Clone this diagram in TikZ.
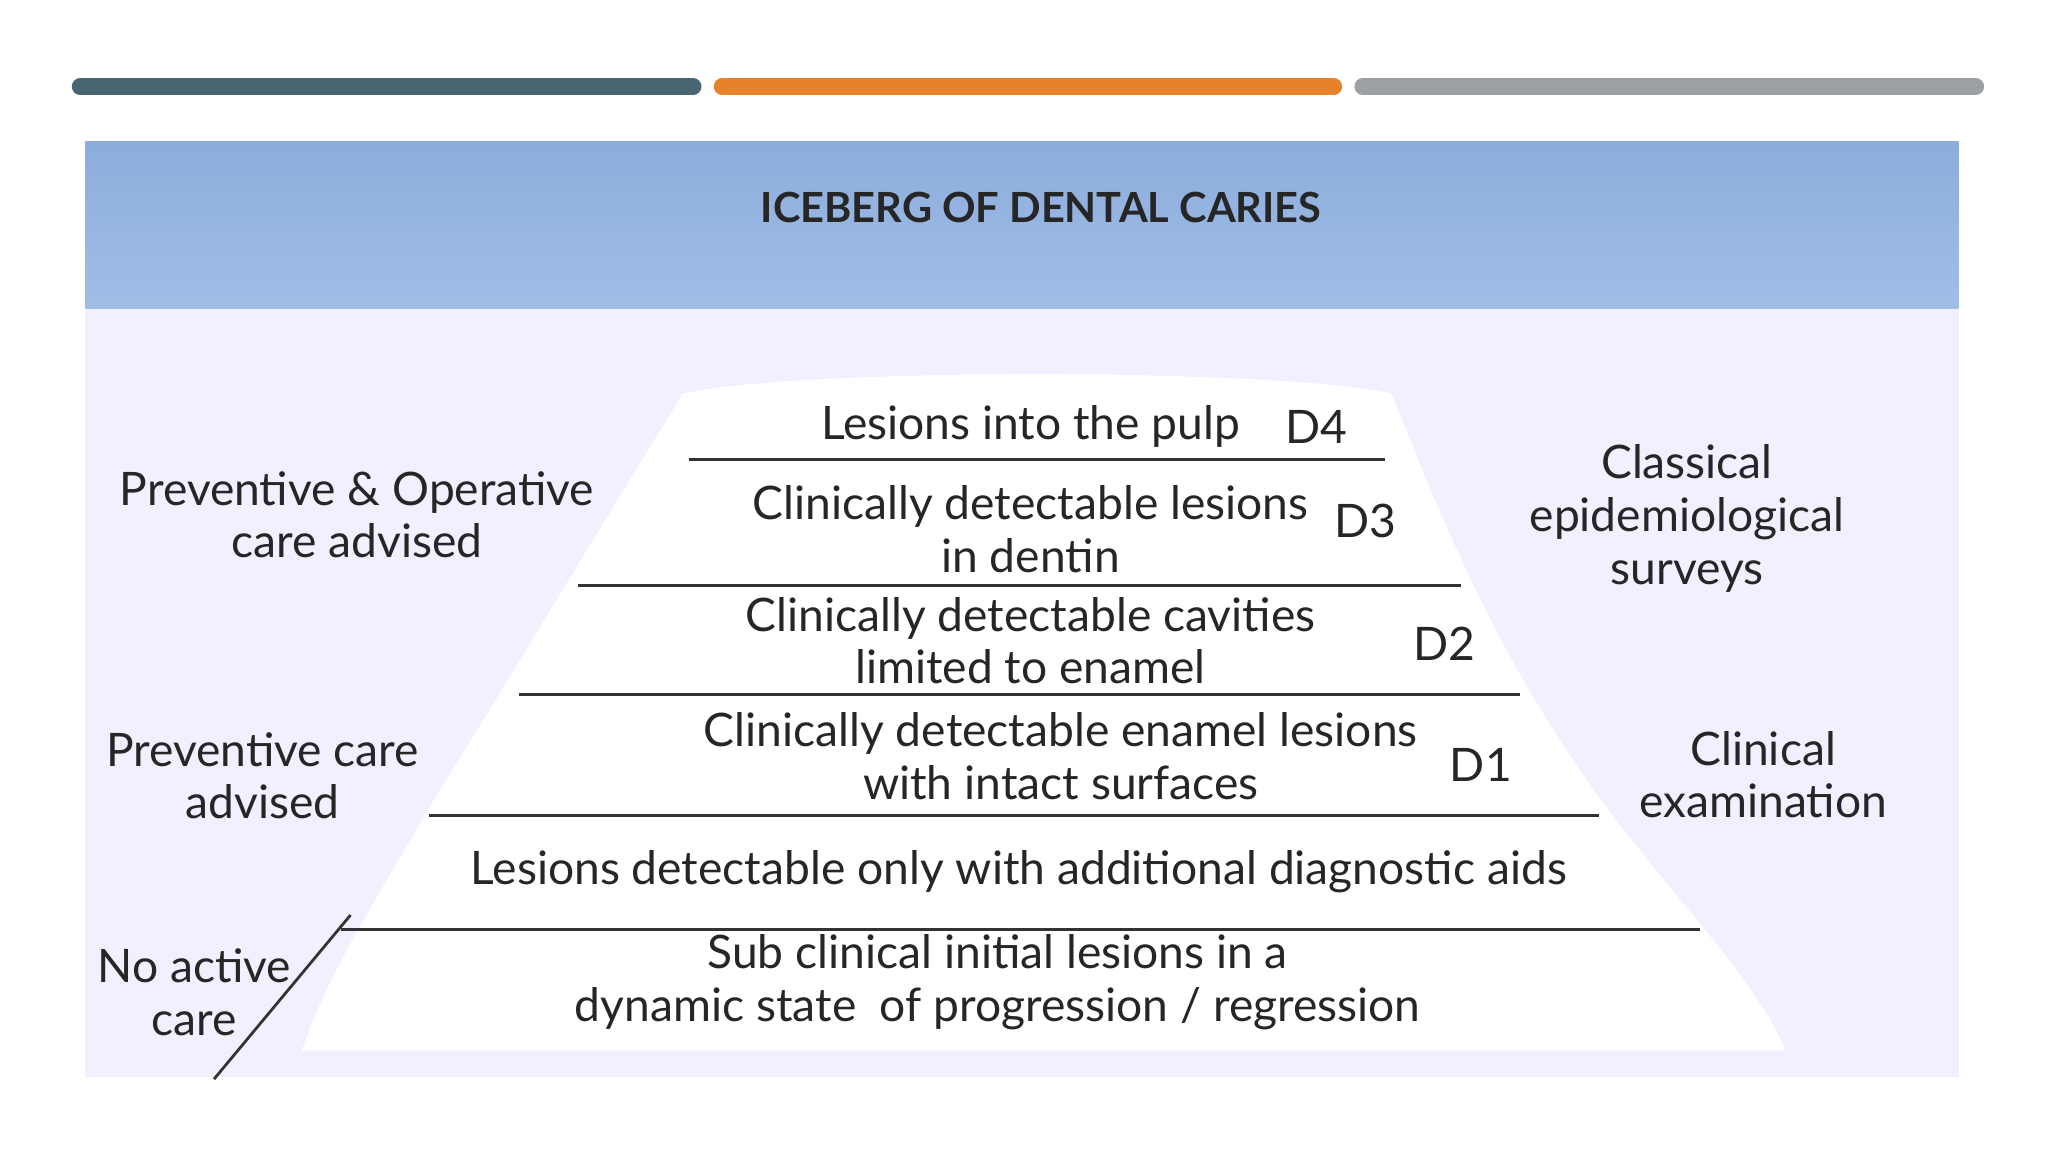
\documentclass[tikz,border=0pt]{standalone}
\usepackage{fontspec}
\setmainfont{Lato}
\begin{document}
\begin{tikzpicture}[x=0.01cm,y=-0.01cm,
  lbl/.style={font=\fontsize{10}{11.4}\selectfont,align=center,text=black!85,inner sep=0},
  sep/.style={line width=0.6pt,black!80},
  bar/.style={line width=3.6pt,line cap=round}]
\useasboundingbox (0,0) rectangle (1560,878);
\fill[white] (0,0) rectangle (1560,878);
\definecolor{slate}{HTML}{4A6572}\definecolor{orng}{HTML}{E8822A}\definecolor{gry}{HTML}{9AA0A3}
\draw[bar,slate] (61,66) -- (528,66);
\draw[bar,orng] (550,66) -- (1016,66);
\draw[bar,gry] (1038,66) -- (1505,66);
% panel
\fill[blue!6!white] (65,235) rectangle (1492,820);
\shade[top color={rgb,255:red,140;green,172;blue,220},bottom color={rgb,255:red,160;green,190;blue,230}] (65,108) rectangle (1492,235);
\fill[white] (520,300) .. controls (600,280) and (980,280) .. (1060,300)
  .. controls (1100,400) and (1140,500) .. (1220,610)
  .. controls (1280,690) and (1340,750) .. (1360,800)
  -- (230,800) .. controls (250,740) and (290,680) .. (327,615)
  .. controls (380,530) and (440,430) .. cycle;
\node[lbl,font=\fontsize{9}{10}\selectfont\bfseries] (title) at (793,158) {ICEBERG OF DENTAL CARIES};
% separators
\coordinate (a1) at (525,350); \coordinate (a2) at (1055,350);
\coordinate (b1) at (440,446); \coordinate (b2) at (1113,446);
\coordinate (c1) at (395,529); \coordinate (c2) at (1158,529);
\coordinate (d1) at (327,621); \coordinate (d2) at (1218,621);
\coordinate (e1) at (260,708); \coordinate (e2) at (1295,708);
\coordinate (f1) at (267,697); \coordinate (f2) at (163,822);
\draw[sep] (a1)--(a2); \draw[sep] (b1)--(b2); \draw[sep] (c1)--(c2);
\draw[sep] (d1)--(d2); \draw[sep] (e1)--(e2); \draw[sep] (f1)--(f2);
% layer texts
\node[lbl] (l4) at (785,325) {Lesions into the pulp};
\node[lbl] (d4) at (1003,325) {D4};
\node[lbl] (l3) at (785,403) {Clinically detectable lesions\\in dentin};
\node[lbl] (d3) at (1040,397) {D3};
\node[lbl] (l2) at (785,488) {Clinically detectable cavities\\limited to enamel};
\node[lbl] (d2) at (1100,490) {D2};
\node[lbl] (l1) at (808,576) {Clinically detectable enamel lesions\\with intact surfaces};
\node[lbl] (dd1) at (1128,583) {D1};
\node[lbl] (l0) at (776,664) {Lesions detectable only with additional diagnostic aids};
\node[lbl] (lsub) at (760,748) {Sub clinical initial lesions in a\\dynamic state\ \ of progression / regression};
% side texts
\node[lbl] (po) at (272,392) {Preventive \& Operative\\care advised};
\node[lbl] (pc) at (200,591) {Preventive care\\advised};
\node[lbl] (na) at (148,756) {No active\\care};
\node[lbl] (ce) at (1285,395) {Classical\\epidemiological\\surveys};
\node[lbl] (ci) at (1343,590) {Clinical\\examination};
\end{tikzpicture}
\end{document}
